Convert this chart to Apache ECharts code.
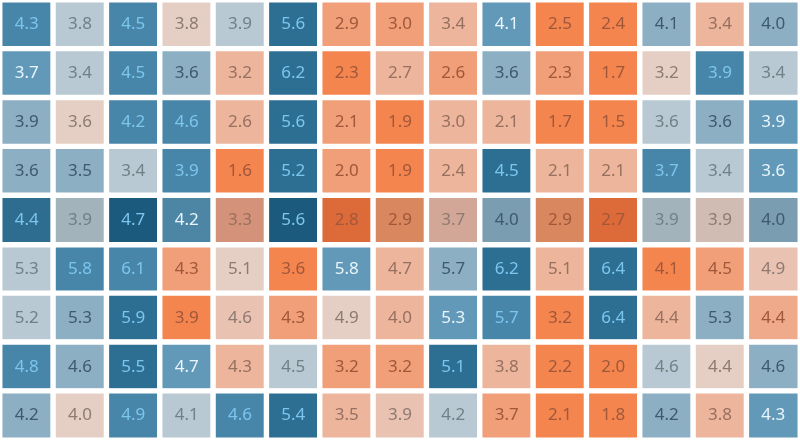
<!DOCTYPE html>
<html>
<head>
<meta charset="utf-8">
<script src="https://cdn.jsdelivr.net/npm/echarts@6/dist/echarts.min.js"></script>
<style>
  html, body { margin: 0; padding: 0; background: #fff; }
  #chart { width: 800px; height: 440px; }
</style>
</head>
<body>
<div id="chart"></div>
<script>
// column / row categories
const cols = ['C1','C2','C3','C4','C5','C6','C7','C8','C9','C10','C11','C12','C13','C14','C15'];
const rows = ['R1','R2','R3','R4','R5','R6','R7','R8','R9'];

// shown values, row by row
const valueRows = [
  [4.3, 3.8, 4.5, 3.8, 3.9, 5.6, 2.9, 3.0, 3.4, 4.1, 2.5, 2.4, 4.1, 3.4, 4.0],
  [3.7, 3.4, 4.5, 3.6, 3.2, 6.2, 2.3, 2.7, 2.6, 3.6, 2.3, 1.7, 3.2, 3.9, 3.4],
  [3.9, 3.6, 4.2, 4.6, 2.6, 5.6, 2.1, 1.9, 3.0, 2.1, 1.7, 1.5, 3.6, 3.6, 3.9],
  [3.6, 3.5, 3.4, 3.9, 1.6, 5.2, 2.0, 1.9, 2.4, 4.5, 2.1, 2.1, 3.7, 3.4, 3.6],
  [4.4, 3.9, 4.7, 4.2, 3.3, 5.6, 2.8, 2.9, 3.7, 4.0, 2.9, 2.7, 3.9, 3.9, 4.0],
  [5.3, 5.8, 6.1, 4.3, 5.1, 3.6, 5.8, 4.7, 5.7, 6.2, 5.1, 6.4, 4.1, 4.5, 4.9],
  [5.2, 5.3, 5.9, 3.9, 4.6, 4.3, 4.9, 4.0, 5.3, 5.7, 3.2, 6.4, 4.4, 5.3, 4.4],
  [4.8, 4.6, 5.5, 4.7, 4.3, 4.5, 3.2, 3.2, 5.1, 3.8, 2.2, 2.0, 4.6, 4.4, 4.6],
  [4.2, 4.0, 4.9, 4.1, 4.6, 5.4, 3.5, 3.9, 4.2, 3.7, 2.1, 1.8, 4.2, 3.8, 4.3]
];

// colour score read from each cell: negative = orange, positive = blue
const scoreRows = [
  [4, 1, 4, -1, 1, 5, -3, -3, -2, 3, -4, -4, 2, -2, 2],
  [3, 1, 4, 2, -2, 5, -4, -2, -3, 2, -3, -4, -1, 4, 1],
  [2, -1, 4, 4, -2, 5, -3, -4, -2, -2, -4, -4, 1, 2, 3],
  [2, 2, 1, 4, -4, 5, -3, -4, -2, 5, -2, -2, 4, 1, 3],
  [4, 1, 5, 3, -2, 5, -4, -3, -1.5, 2, -3, -4, 1, -1, 2],
  [1, 4, 4, -3, -1, -4, 3, -2, 2, 5, -2, 5, -4, -3, -1.5],
  [1, 2, 5, -4, -1.5, -3, -1, -2, 3, 4, -4, 5, -2, 2, -2.5],
  [4, 2, 5, 3, -2, 1, -3, -3, 5, -2, -4, -4, 1, -1, 2],
  [2, -1, 4, 1, 4, 5, -2, -1.5, 1, -3, -4, -4, 2, -2, 3]
];

const highlightRow = 4;

// palette for scores -4 .. 5
const normalColors = ['#f4854f', '#f09f78', '#ecb59c', '#e5cfc5', '#d0d0d0',
                      '#b8c9d3', '#8cafc3', '#6399b8', '#4886a9', '#2c6f93'];
const darkColors = ['#dd6b39', '#d9875f', '#d4927a', '#d0bcb3', '#bbbbbb',
                    '#a2b3bc', '#7a9db1', '#4d86a5', '#2f6d90', '#1c5a7d'];

function labelColor(s) {
  if (s >= 3.5) return '#7cc6ee';
  if (s >= 2.5) return '#e8f5fc';
  if (s >= 1.5) return '#3e5a6c';
  if (s > 0) return '#737f86';
  if (s > -1.75) return '#8e7a72';
  if (s > -2.5) return '#97705f';
  return '#a0573a';
}

let normalData = [];
let darkData = [];
valueRows.forEach((row, r) => {
  row.forEach((v, c) => {
    const s = scoreRows[r][c];
    const item = {value: [c, r, s, v], label: {color: labelColor(s)}};
    if (r === highlightRow) darkData.push(item); else normalData.push(item);
  });
});

const chart = echarts.init(document.getElementById('chart'));

const cellStyle = {borderColor: '#ffffff', borderWidth: 5.4};
const cellLabel = {
  show: true,
  fontFamily: 'Noto Sans',
  fontSize: 17,
  formatter: p => p.data.value[3].toFixed(1)
};

chart.setOption({
  animation: false,
  grid: {left: -2.7, right: -2.7, top: -3.4, bottom: -1.2},
  xAxis: {type: 'category', data: cols, show: false},
  yAxis: {type: 'category', data: rows, inverse: true, show: false},
  visualMap: [
    {type: 'continuous', show: false, min: -4, max: 5, dimension: 2, seriesIndex: 0,
     inRange: {color: normalColors}},
    {type: 'continuous', show: false, min: -4, max: 5, dimension: 2, seriesIndex: 1,
     inRange: {color: darkColors}}
  ],
  series: [
    {type: 'heatmap', data: normalData, itemStyle: cellStyle, label: cellLabel, emphasis: {disabled: true}},
    {type: 'heatmap', data: darkData, itemStyle: cellStyle, label: cellLabel, emphasis: {disabled: true}}
  ]
});
</script>
</body>
</html>
